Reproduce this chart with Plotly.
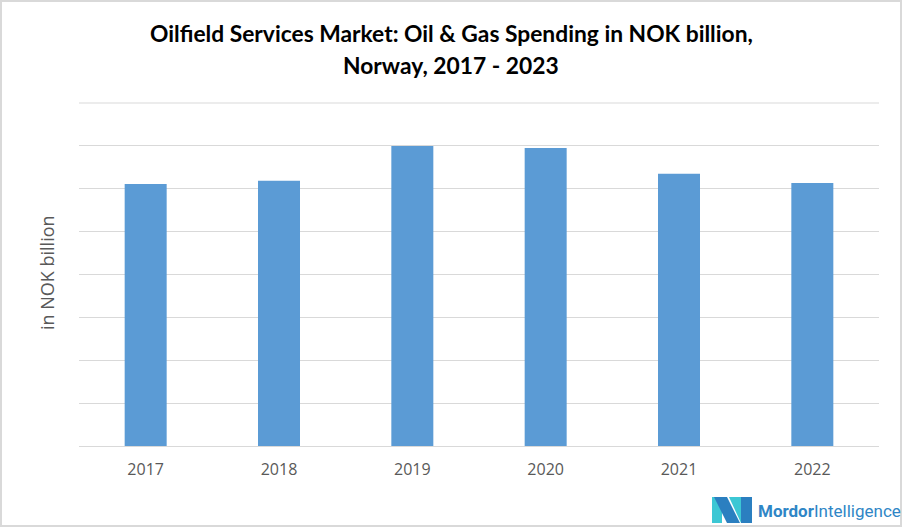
import plotly.graph_objects as go

years = ["2017", "2018", "2019", "2020", "2021", "2022"]
spending = [152.8, 154.6, 175.0, 173.8, 158.7, 153.4]

W, H = 902, 527
L, R, T, B = 79, 879, 103, 446  # plot area in px

def px(x):
    return (x - L) / (R - L)

def py(y):
    return (B - y) / (B - T)

fig = go.Figure()
fig.add_trace(go.Bar(x=years, y=spending, marker_color="#5b9bd5", marker_line_width=0))

shapes = [
    dict(type="rect", xref="paper", yref="paper", x0=px(1), x1=px(W - 1), y0=py(H - 1), y1=py(1),
         line=dict(color="#d9d9d9", width=2), layer="above"),
    dict(type="line", xref="paper", yref="paper", x0=0, x1=1, y0=1, y1=1,
         line=dict(color="#d9d9d9", width=1), layer="below"),
    # logo icon
    dict(type="path", xref="paper", yref="paper",
         path=f"M {px(712)},{py(497)} L {px(722)},{py(497)} L {px(722)},{py(523)} L {px(712)},{py(523)} Z",
         fillcolor="#3cc7d4", line_width=0),
    dict(type="path", xref="paper", yref="paper",
         path=f"M {px(714)},{py(497)} L {px(727)},{py(497)} L {px(740)},{py(523)} L {px(727)},{py(523)} Z",
         fillcolor="#2b7fc0", line_width=0),
    dict(type="path", xref="paper", yref="paper",
         path=f"M {px(729)},{py(497)} L {px(741)},{py(497)} L {px(752)},{py(523)} L {px(741)},{py(523)} Z",
         fillcolor="#3cc7d4", line_width=0),
    dict(type="path", xref="paper", yref="paper",
         path=f"M {px(741)},{py(497)} L {px(752)},{py(497)} L {px(752)},{py(523)} L {px(741)},{py(523)} Z",
         fillcolor="#2b7fc0", line_width=0),
]

annotations = [
    dict(text="<b>Oilfield Services Market: Oil &amp; Gas Spending in NOK billion,</b>",
         xref="paper", yref="paper", x=px(451), y=py(33), showarrow=False,
         font=dict(family="Lato", size=22.8, color="#000000"), xanchor="center", yanchor="middle"),
    dict(text="<b>Norway, 2017 - 2023</b>",
         xref="paper", yref="paper", x=px(451), y=py(65), showarrow=False,
         font=dict(family="Lato", size=22.8, color="#000000"), xanchor="center", yanchor="middle"),
    dict(text="in NOK billion", xref="paper", yref="paper", x=px(47), y=py(273), textangle=-90,
         showarrow=False, font=dict(family="Open Sans", size=18, color="#595959"),
         xanchor="center", yanchor="middle"),
    dict(text="<b>Mordor</b>Intelligence", xref="paper", yref="paper", x=px(756), y=py(511),
         showarrow=False, font=dict(family="Roboto", size=17, color="#2f86c6"),
         xanchor="left", yanchor="middle"),
]

fig.update_layout(
    width=W, height=H,
    margin=dict(l=L, r=W - R, t=T, b=H - B),
    paper_bgcolor="white", plot_bgcolor="white",
    bargap=0.685,
    showlegend=False,
    shapes=shapes,
    annotations=annotations,
    xaxis=dict(tickfont=dict(family="Open Sans", size=16, color="#595959"), ticks="", showline=False,
               showgrid=False, ticklabelstandoff=12),
    yaxis=dict(range=[0, 200], dtick=25, showticklabels=False, gridcolor="#d9d9d9", gridwidth=1,
               zeroline=True, zerolinecolor="#d9d9d9", zerolinewidth=1, showline=False),
)

fig.write_html("out.html")
